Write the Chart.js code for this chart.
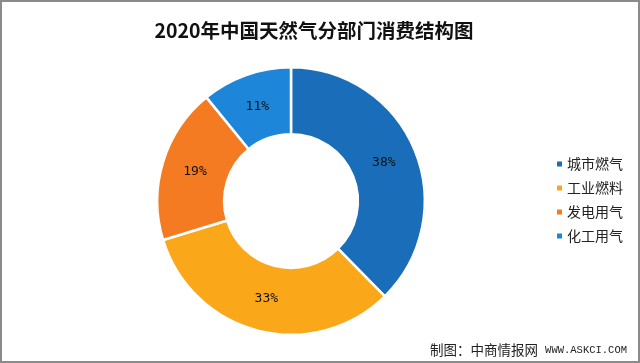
<!DOCTYPE html>
<html><head><meta charset="utf-8">
<script src="https://cdn.jsdelivr.net/npm/chart.js@4.4.1/dist/chart.umd.min.js"></script>
<style>
html,body{margin:0;padding:0;background:#fff;}
#wrap{position:relative;width:640px;height:363px;box-sizing:border-box;border:2px solid #8a8a8a;}
canvas{position:absolute;left:-2px;top:-2px;}
</style></head><body>
<div id="wrap"><canvas id="c" width="640" height="363"></canvas></div>
<script>
const title = '2020年中国天然气分部门消费结构图';
const categories = ['城市燃气','工业燃料','发电用气','化工用气'];
const values = [38, 33, 19, 11];
const colors = ['#1A6DB8','#FAA71A','#F57B22','#1E86D9'];
const source = '制图：中商情报网 WWW.ASKCI.COM';

const overlay = {
  id:'overlay',
  afterDatasetsDraw(chart){
    const ctx = chart.ctx;
    const meta = chart.getDatasetMeta(0);
    ctx.save();
    ctx.fillStyle = '#111';
    ctx.font = '13px "DejaVu Sans Mono", monospace';
    ctx.textAlign = 'center'; ctx.textBaseline = 'middle';
    meta.data.forEach((arc,i)=>{
      const p = arc.tooltipPosition();
      ctx.fillText(values[i] + '%', p.x, p.y);
    });
    // title
    ctx.font = 'bold 19.5px "Noto Sans CJK SC", sans-serif';
    ctx.fillStyle = '#111';
    ctx.fillText(title, 314, 31);
    // legend
    ctx.textAlign = 'left';
    ctx.font = '14px "Noto Sans CJK SC", sans-serif';
    categories.forEach((c,i)=>{
      const y = 164 + i*24;
      ctx.fillStyle = colors[i];
      ctx.fillRect(557, y-2.5, 5, 5);
      ctx.fillStyle = '#222';
      ctx.fillText(c, 567, y);
    });
    // source
    const parts = source.split(' ');
    ctx.textAlign = 'right';
    ctx.font = '13.5px "Noto Sans CJK SC", sans-serif';
    ctx.fillStyle = '#222';
    ctx.fillText(parts[0], 538, 350);
    ctx.font = '10.5px "Liberation Mono", monospace';
    ctx.fillText(parts[1], 627, 350);
    ctx.restore();
  }
};

new Chart(document.getElementById('c'), {
  type:'doughnut',
  data:{labels:categories, datasets:[{data:values, backgroundColor:colors, borderColor:'#fff', borderWidth:2.5}]},
  options:{
    responsive:false, animation:false,
    cutout:'50%',
    layout:{padding:{left:156, right:214, top:66, bottom:27}},
    plugins:{legend:{display:false}, title:{display:false}, tooltip:{enabled:false}}
  },
  plugins:[overlay]
});
</script>
</body></html>
